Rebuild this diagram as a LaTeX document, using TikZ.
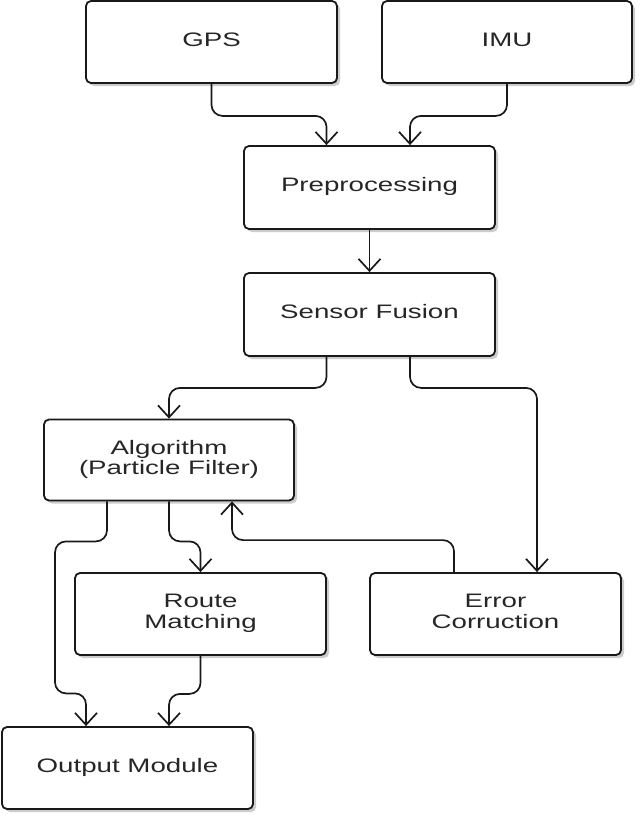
\documentclass[tikz,border=0pt]{standalone}
\usepackage{fontspec}
\setmainfont{Liberation Sans}
\usetikzlibrary{arrows.meta,shadows}
\newcommand{\wtext}[1]{\scalebox{1.42}[1]{\fontsize{19.5}{20}\selectfont\begin{tabular}{@{}c@{}}#1\end{tabular}}}
\tikzset{
  box/.style={draw=black!90, line width=1.8pt, rounded corners=5pt, fill=white,
    minimum width=251pt, minimum height=82pt, inner sep=0pt, text=black!85,
    drop shadow={shadow xshift=3pt, shadow yshift=-3pt, fill=black!25, opacity=0.8}},
  arr/.style={draw=black!90, line width=1.7pt, rounded corners=11pt,
    -{Straight Barb[length=12pt,width=22pt,line width=1.7pt]}},
  ln/.style={draw=black!90, line width=1.7pt, rounded corners=11pt}
}
\begin{document}
\begin{tikzpicture}[x=1pt,y=-1pt]
\useasboundingbox (0,0) rectangle (640,815);
\node[box] (gps) at (211.5,42) {\wtext{GPS}};
\node[box, minimum width=250pt] (imu) at (507,42) {\wtext{IMU}};
\node[box, minimum height=83pt] (pre) at (369.5,187.5) {\wtext{Preprocessing}};
\node[box, minimum height=83pt] (sf) at (369.5,314.5) {\wtext{Sensor Fusion}};
\node[box, minimum width=250pt, minimum height=81pt] (alg) at (169,460) {\wtext{Algorithm\\(Particle Filter)}};
\node[box] (rm) at (200.5,614) {\wtext{Route\\Matching}};
\node[box] (ec) at (495.5,614) {\wtext{Error\\Corruction}};
\node[box] (om) at (127.5,768) {\wtext{Output Module}};

\draw[arr] (gps.south) -- ++(0,32) -| ([xshift=-43pt]pre.north);
\draw[arr] (imu.south) -- ++(0,32) -| ([xshift=40.5pt]pre.north);
\draw[arr] (pre.south) -- (sf.north);
\draw[arr] ([xshift=-43pt]sf.south) -- ++(0,31) -| (alg.north);
\draw[arr] ([xshift=40.5pt]sf.south) -- ++(0,31) -| ([xshift=41.5pt]ec.north);
\draw[arr] (alg.south) -- ++(0,40) -| (rm.north);
\draw[arr] ([xshift=-62pt]alg.south) -- ++(0,40) -- ++(-52,0) -- ++(0,152) -| ([xshift=-41.5pt]om.north);
\draw[arr] (rm.south) -- ++(0,38) -| ([xshift=41.5pt]om.north);
\draw[arr] ([xshift=-41.5pt]ec.north) -- ++(0,-32) -| ([xshift=63pt]alg.south);
\end{tikzpicture}
\end{document}
